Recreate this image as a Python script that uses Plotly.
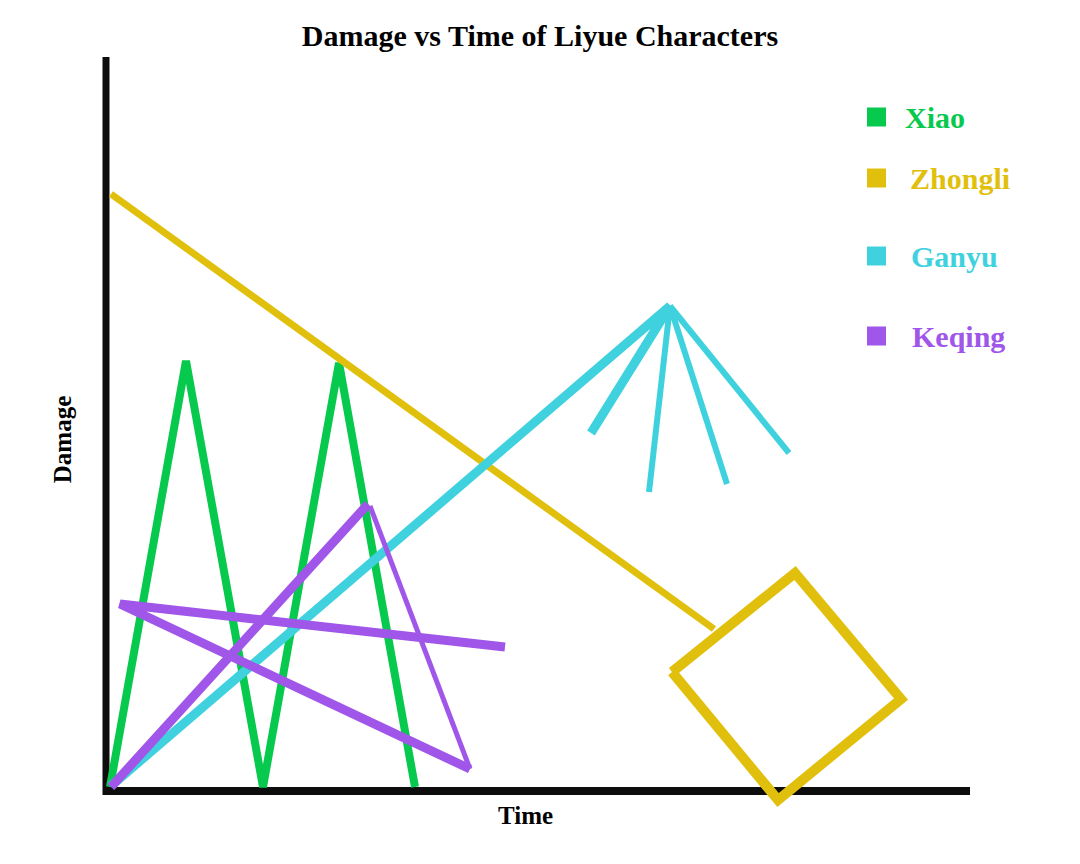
import plotly.graph_objects as go

# units: time / damage (origin at the axes corner)
xiao_t = [4, 80, 157, 233, 309]
xiao_d = [4, 430, 4, 428, 4]

zhongli_t = [5, 608]
zhongli_d = [597, 162]
zhongli_box_t = [566, 689, 795, 672, 566]
zhongli_box_d = [119, 218, 92, -9, 119]

ganyu_t = [5, 564, 485]
ganyu_d = [5, 485, 358]
ganyu_fan_t = [564, 543, None, 564, 621, None, 564, 683]
ganyu_fan_d = [485, 299, None, 485, 307, None, 485, 338]

keqing_t = [5, 262, None, 364, 14, 399]
keqing_d = [4, 287, None, 22, 187, 144]
keqing_thin_t = [264, 364]
keqing_thin_d = [285, 22]

names = ['Xiao', 'Zhongli', 'Ganyu', 'Keqing']
colors = ['#07C94E', '#E1C00D', '#3FD2DE', '#A056E8']

serif = 'Liberation Serif, Times New Roman, serif'

fig = go.Figure()
fig.add_trace(go.Scatter(x=xiao_t, y=xiao_d, mode='lines', name='Xiao',
                         line=dict(color=colors[0], width=8)))
fig.add_trace(go.Scatter(x=zhongli_t, y=zhongli_d, mode='lines', name='Zhongli',
                         line=dict(color=colors[1], width=7)))
fig.add_trace(go.Scatter(x=zhongli_box_t, y=zhongli_box_d, mode='lines', name='Zhongli',
                         line=dict(color=colors[1], width=10), showlegend=False))
fig.add_trace(go.Scatter(x=ganyu_t, y=ganyu_d, mode='lines', name='Ganyu',
                         line=dict(color=colors[2], width=9)))
fig.add_trace(go.Scatter(x=ganyu_fan_t, y=ganyu_fan_d, mode='lines', name='Ganyu',
                         line=dict(color=colors[2], width=6), showlegend=False))
fig.add_trace(go.Scatter(x=keqing_t, y=keqing_d, mode='lines', name='Keqing',
                         line=dict(color=colors[3], width=9)))
fig.add_trace(go.Scatter(x=keqing_thin_t, y=keqing_thin_d, mode='lines', name='Keqing',
                         line=dict(color=colors[3], width=5), showlegend=False))

# hand drawn axes
fig.add_shape(type='line', x0=0, x1=0, y0=-4, y1=734, xref='x', yref='y',
              line=dict(color='#0d0d0d', width=7), layer='below')
fig.add_shape(type='line', x0=-3, x1=864, y0=0, y1=0, xref='x', yref='y',
              line=dict(color='#0d0d0d', width=8), layer='below')

# custom legend
leg_y = [674, 613, 535, 455]
leg_tx = [797, 802, 803, 804]
for name, c, y, tx in zip(names, colors, leg_y, leg_tx):
    fig.add_shape(type='rect', x0=761, x1=780, y0=y - 9.5, y1=y + 9.5,
                  xref='x', yref='y', fillcolor=c, line=dict(width=0))
    fig.add_annotation(x=tx, y=y, xref='x', yref='y', text='<b>' + name + '</b>',
                       showarrow=False, xanchor='left', yanchor='middle',
                       font=dict(family=serif, size=30, color=c))

fig.add_annotation(x=0.4844, y=0.0064, xref='paper', yref='paper', text='<b>Time</b>',
                   showarrow=False, xanchor='center', yanchor='middle',
                   font=dict(family=serif, size=25, color='black'))
fig.add_annotation(x=-0.031, y=0.487, xref='paper', yref='paper', text='<b>Damage</b>',
                   showarrow=False, textangle=-90, xanchor='center', yanchor='middle',
                   font=dict(family=serif, size=25, color='black'))

fig.update_layout(
    width=1080, height=864,
    title=dict(text='<b>Damage vs Time of Liyue Characters</b>', x=0.5 - 8 / 1080,
               xref='container', y=1 - 27 / 864, yanchor='middle',
               font=dict(family=serif, size=30, color='black')),
    showlegend=False,
    plot_bgcolor='white', paper_bgcolor='white',
    margin=dict(l=82, r=98, t=32, b=52),
    xaxis=dict(range=[-16, 884], visible=False),
    yaxis=dict(range=[-29, 751], visible=False),
)

fig.write_html("out.html")
